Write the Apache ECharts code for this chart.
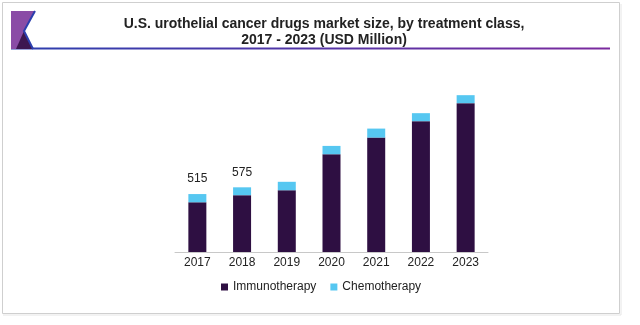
<!DOCTYPE html>
<html><head><meta charset="utf-8">
<script src="https://cdn.jsdelivr.net/npm/echarts@6/dist/echarts.min.js"></script>
<style>html,body{margin:0;padding:0;background:#fff}#c{width:640px;height:325px}</style>
</head><body><div id="c"></div>
<script>
const categories = ['2017','2018','2019','2020','2021','2022','2023'];
const immunotherapy = [442, 505, 549, 869, 1017, 1163, 1323];
const chemotherapy = [73, 70, 75, 74, 80, 71, 71];
const totalLabels = ['515', '575', '', '', '', '', ''];

const FONT = '"Liberation Sans", Arial, sans-serif';
const chart = echarts.init(document.getElementById('c'), null, {renderer: 'canvas'});
chart.setOption({
  animation: false,
  textStyle: {fontFamily: FONT},
  title: {
    text: 'U.S. urothelial cancer drugs market size, by treatment class,\n2017 - 2023 (USD Million)',
    left: 319, top: 11, textAlign: 'center',
    textStyle: {fontSize: 14, fontWeight: 'bold', color: '#222', lineHeight: 16, fontFamily: FONT}
  },
  graphic: [
    {type: 'rect', shape: {x: 2.5, y: 2.5, width: 617, height: 311}, style: {fill: 'none', stroke: '#cfcfcf', lineWidth: 1}, z: 0},
    {type: 'line', shape: {x1: 3, y1: 315, x2: 621, y2: 315}, style: {stroke: '#e6e6e6', lineWidth: 1}},
    {type: 'line', shape: {x1: 621, y1: 4, x2: 621, y2: 315}, style: {stroke: '#e6e6e6', lineWidth: 1}},
    {type: 'rect', shape: {x: 11, y: 47.5, width: 599, height: 2},
      style: {fill: new echarts.graphic.LinearGradient(0, 0, 1, 0, [{offset: 0, color: '#2c3fae'}, {offset: 1, color: '#7b2a9e'}])}},
    {type: 'polygon', shape: {points: [[11, 11], [35, 11], [24, 31], [33, 49], [11, 49]]}, style: {fill: '#8a4ca6'}},
    {type: 'polygon', shape: {points: [[16, 49], [24, 31], [33, 49]]}, style: {fill: '#3d1650'}},
    {type: 'polyline', shape: {points: [[35, 11], [24, 31], [33, 49]]}, style: {stroke: '#2c3fae', lineWidth: 2, fill: 'none'}}
  ],
  legend: {
    data: ['Immunotherapy', 'Chemotherapy'],
    left: 216, top: 276, itemWidth: 7, itemHeight: 7, itemGap: 14, icon: 'rect',
    textStyle: {fontSize: 12, color: '#222', fontFamily: FONT}
  },
  grid: {left: 175, right: 152, top: 72, bottom: 73, containLabel: false},
  xAxis: {
    type: 'category', data: categories,
    axisLine: {lineStyle: {color: '#c8c8c8', width: 1}},
    axisTick: {show: false},
    axisLabel: {fontSize: 12, color: '#222', margin: 5, fontFamily: FONT}
  },
  yAxis: {type: 'value', min: 0, max: 1600, show: false, splitLine: {show: false}},
  series: [
    {name: 'Immunotherapy', type: 'bar', stack: 'a', data: immunotherapy, barWidth: 18,
      itemStyle: {color: '#2e0f42'}},
    {name: 'Chemotherapy', type: 'bar', stack: 'a', data: chemotherapy, barWidth: 18,
      itemStyle: {color: '#56c7f1'},
      label: {show: true, position: 'top', distance: 9, fontSize: 12, color: '#222', fontFamily: FONT,
        formatter: p => totalLabels[p.dataIndex]}}
  ]
});
</script></body></html>
